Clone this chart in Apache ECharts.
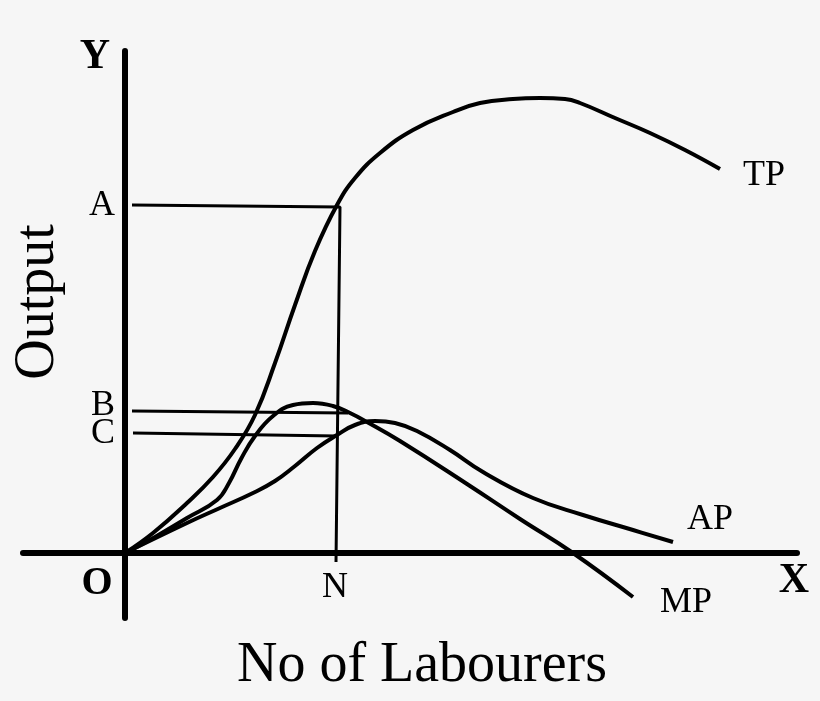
<!DOCTYPE html>
<html>
<head>
<meta charset="utf-8">
<script src="https://cdn.jsdelivr.net/npm/echarts@6/dist/echarts.min.js"></script>
<style>
  html, body { margin: 0; padding: 0; background: #f6f6f6; }
  #chart { width: 820px; height: 701px; }
</style>
</head>
<body>
<div id="chart"></div>
<script>
// curve points, [labour, output]
const tpPoints = [[0, 0], [28, 20], [62, 50], [88, 76], [110, 104], [130, 138], [150, 190], [170, 248],
  [190, 302], [212, 348], [230, 375], [255, 400], [288, 423], [328, 441], [355, 450], [388, 454],
  [415, 455], [440, 454], [455, 450], [490, 435], [525, 420], [560, 403], [595, 384]]
const mpPoints = [[0, 0], [30, 16], [62, 35], [92, 53], [104, 70], [116, 94], [130, 117], [148, 137],
  [168, 148], [188, 150], [208, 147], [225, 140], [242, 131], [275, 112], [342, 69], [395, 34],
  [448, 0], [508, -44]]
const apPoints = [[0, 0], [62, 30], [95, 45], [128, 60], [150, 72], [170, 87], [192, 105], [212, 118],
  [230, 128], [250, 132], [270, 130], [292, 122], [325, 103], [358, 81], [408, 55], [458, 38],
  [508, 23], [548, 11]]

// dropped guide lines
const guideAN = [[7, 348], [215, 346], [211, -9]]
const guideB = [[7, 142], [223, 140]]
const guideC = [[8, 120], [212, 117]]

// letters on the axes
const levelNames = ['A', 'B', 'C']
const levelValues = [347, 147, 119]
const labourNames = ['N']
const labourValues = [210]

const font = 'Liberation Serif'
const chart = echarts.init(document.getElementById('chart'))

function curve(name, data, offset) {
  return {
    name,
    type: 'line',
    data,
    smooth: 0.45,
    showSymbol: false,
    lineStyle: { color: '#000', width: 4 },
    endLabel: {
      show: true,
      formatter: '{a}',
      color: '#000',
      fontFamily: font,
      fontSize: 36,
      distance: 0,
      offset,
    },
  }
}

function guide(data) {
  return {
    type: 'line',
    data,
    showSymbol: false,
    lineStyle: { color: '#000', width: 3 },
  }
}

function letters(names, points, position, distance) {
  return {
    type: 'scatter',
    symbolSize: 0,
    silent: true,
    itemStyle: { opacity: 1 },
    data: points.map((p, i) => ({ value: p, name: names[i] })),
    label: {
      show: true,
      position,
      distance,
      formatter: '{b}',
      color: '#000',
      fontFamily: font,
      fontSize: 36,
    },
  }
}

chart.setOption({
  backgroundColor: '#f6f6f6',
  animation: false,
  grid: { left: 23, right: 23, top: 51, bottom: 83, containLabel: false, outerBoundsMode: 'none' },
  xAxis: {
    type: 'value',
    min: -102,
    max: 672,
    axisLine: { onZero: true, lineStyle: { color: '#000', width: 6 } },
    axisTick: { show: false },
    axisLabel: { show: false },
    splitLine: { show: false },
  },
  yAxis: {
    type: 'value',
    min: -65,
    max: 502,
    axisLine: { onZero: true, lineStyle: { color: '#000', width: 6 } },
    axisTick: { show: false },
    axisLabel: { show: false },
    splitLine: { show: false },
  },
  graphic: [
    { type: 'text', x: 95, y: 57, style: { text: 'Y', font: `bold 42px "${font}"`, fill: '#000', textAlign: 'center', textVerticalAlign: 'middle' } },
    { type: 'text', x: 97, y: 584, style: { text: 'O', font: `bold 40px "${font}"`, fill: '#000', textAlign: 'center', textVerticalAlign: 'middle' } },
    { type: 'text', x: 794, y: 581, style: { text: 'X', font: `bold 42px "${font}"`, fill: '#000', textAlign: 'center', textVerticalAlign: 'middle' } },
    { type: 'text', x: 38, y: 302, rotation: Math.PI / 2, style: { text: 'Output', font: `56px "${font}"`, fill: '#000', textAlign: 'center', textVerticalAlign: 'middle' } },
    { type: 'text', x: 422, y: 666, style: { text: 'No of Labourers', font: `56px "${font}"`, fill: '#000', textAlign: 'center', textVerticalAlign: 'middle' } },
  ],
  series: [
    guide(guideAN),
    guide(guideB),
    guide(guideC),
    curve('TP', tpPoints, [23, 7]),
    curve('MP', mpPoints, [27, 6]),
    curve('AP', apPoints, [14, -22]),
    letters(levelNames, levelValues.map((v) => [0, v]), 'left', 10),
    letters(labourNames, labourValues.map((v) => [v, 0]), 'bottom', 17),
  ],
})
</script>
</body>
</html>
